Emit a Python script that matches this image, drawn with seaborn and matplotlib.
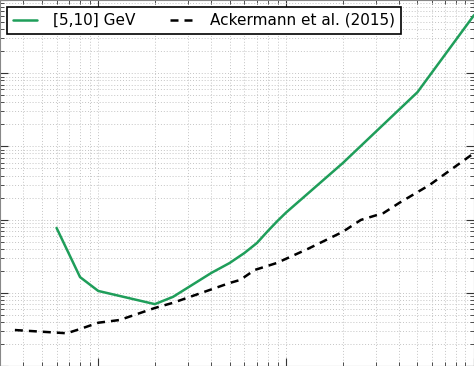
import numpy as np
import pandas as pd
import matplotlib
matplotlib.use('Agg')
import matplotlib.pyplot as plt
import seaborn as sns

# masa (GeV) y limite <sigma v> (cm^3/s)
masa_bin = [6, 8, 10, 20, 25, 40, 50, 60, 70, 80, 90, 100, 200, 500, 1000]
sigv_bin = [7.7e-26, 1.64e-26, 1.06e-26, 7.0e-27, 8.8e-27, 1.87e-26, 2.55e-26,
            3.5e-26, 4.8e-26, 7.0e-26, 9.6e-26, 1.25e-25, 5.9e-25, 5.5e-24, 6.2e-23]

masa_ack = [3.6, 6.8, 8, 10, 13, 20, 25, 50, 57, 68, 89, 130, 200, 250, 330, 400, 580, 1000]
sigv_ack = [3.1e-27, 2.8e-27, 3.2e-27, 3.9e-27, 4.25e-27, 6.2e-27, 7.3e-27, 1.36e-26,
            1.5e-26, 2.05e-26, 2.55e-26, 3.96e-26, 6.8e-26, 9.9e-26, 1.23e-25,
            1.69e-25, 2.97e-25, 8.1e-25]

etiquetas = ['[5,10] GeV', 'Ackermann et al. (2015)']

sns.set_style('ticks')
plt.rcParams['font.family'] = ['DejaVu Sans']
plt.rcParams['text.color'] = 'black'

fig = plt.figure(figsize=(4.74, 3.66), dpi=100)
ax = fig.add_axes([0, 0, 1, 1])

sns.lineplot(x=masa_bin, y=sigv_bin, ax=ax, color='#1f9e5a', lw=1.8,
             label=etiquetas[0], sort=False)
sns.lineplot(x=masa_ack, y=sigv_ack, ax=ax, color='black', lw=1.8,
             label=etiquetas[1], sort=False, linestyle='--')
ax.lines[1].set_dashes((3.2, 2.4))

ax.set_xscale('log')
ax.set_yscale('log')
ax.set_xlim(3, 1000)
ax.set_ylim(1e-27, 1e-22)

ax.grid(True, which='both', linestyle=(0, (1, 2)), color='#c4c4c4', lw=0.7)
ax.tick_params(which='both', direction='in', top=True, right=True,
               labelbottom=False, labelleft=False, color='#333333')
ax.tick_params(which='major', length=6, width=0.8)
ax.tick_params(which='minor', length=3, width=0.6)
for s in ax.spines.values():
    s.set_color('#888888')

leg = ax.legend(loc='upper left', ncol=2, fontsize=11, frameon=True,
                fancybox=False, edgecolor='black', framealpha=1,
                handlelength=1.6, handletextpad=1.0, columnspacing=2.3,
                borderaxespad=0.45, borderpad=0.4)
leg.get_frame().set_linewidth(1.2)
for t in leg.get_texts():
    t.set_color('black')

fig.savefig('out.png', dpi=100)
